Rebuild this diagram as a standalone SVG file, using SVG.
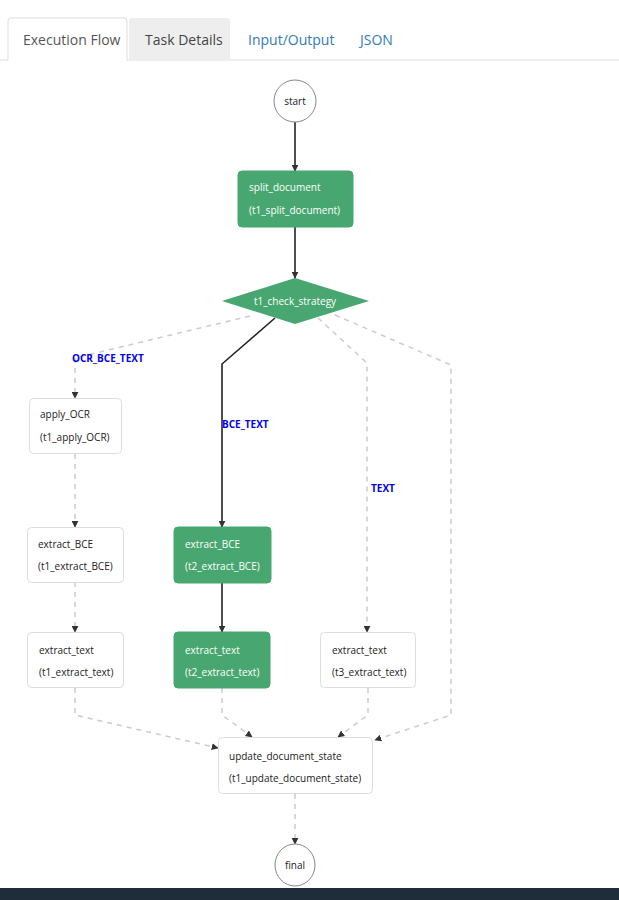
<svg xmlns="http://www.w3.org/2000/svg" width="619" height="900" viewBox="0 0 619 900">
<style>
text{font-family:"Open Sans","Liberation Sans",sans-serif}
.tab{font-size:14px;fill:#337ab7}
.n{font-size:10px;fill:#222}
.g{font-size:10px;fill:#fff}
.lbl{font-size:10px;fill:#0000ee;font-weight:bold}
.box{fill:#fff;stroke:#ddd;stroke-width:1}
.gbox{fill:#48a770;stroke:#48a770}
.solid{fill:none;stroke:#222;stroke-width:1.6;marker-end:url(#a)}
.dash{fill:none;stroke:#ccc;stroke-width:1.5;stroke-dasharray:5,5;marker-end:url(#a)}
</style>
<defs><marker id="a" viewBox="0 0 10 10" refX="9" refY="5" markerWidth="7" markerHeight="7" markerUnits="userSpaceOnUse" orient="auto"><path d="M0,0L10,5L0,10z" fill="#333"/></marker></defs>
<rect width="619" height="900" fill="#fff"/>
<g id="tabs">
<line x1="0" y1="60" x2="619" y2="60" stroke="#ddd"/>
<path d="M8,60V21a3,3 0 0 1 3,-3H124a3,3 0 0 1 3,3V61" fill="#fff" stroke="#ddd"/>
<rect x="8.5" y="59" width="118" height="3" fill="#fff"/>
<path d="M129,60V21a3,3 0 0 1 3,-3H227a3,3 0 0 1 3,3V60z" fill="#eee"/>
<text x="23" y="45" class="tab" style="fill:#555">Execution Flow</text>
<text x="145" y="45" class="tab" style="fill:#444">Task Details</text>
<text x="248" y="45" class="tab">Input/Output</text>
<text x="360" y="45" class="tab">JSON</text>
</g>
<g id="edges">
<path class="solid" d="M295,122V171"/>
<path class="solid" d="M295,227V278"/>
<path class="dash" d="M250,316L75,358V398"/>
<path class="solid" d="M275,318L222,364V527"/>
<path class="dash" d="M318,318L367,363V632"/>
<path class="dash" d="M335,315L451,365V715L375,740"/>
<path class="dash" d="M75,454V527"/>
<path class="dash" d="M75,582V632"/>
<path class="solid" d="M222,582V632"/>
<path class="dash" d="M75,688V715L218,748"/>
<path class="dash" d="M222,688V715L252,737"/>
<path class="dash" d="M368,688V715L338,737"/>
<path class="dash" d="M295,794V844"/>
<text x="72" y="362" class="lbl">OCR_BCE_TEXT</text>
<text x="222" y="428" class="lbl">BCE_TEXT</text>
<text x="371" y="492" class="lbl">TEXT</text>
</g>
<g id="start"><ellipse cx="295" cy="101" rx="21" ry="21" fill="#fff" stroke="#888"/><text x="295" y="105" class="n" text-anchor="middle">start</text></g>
<g id="split_document"><rect x="238" y="171" width="115" height="56" rx="4" class="gbox"/><text x="249" y="191" class="g">split_document</text><text x="249" y="214" class="g">(t1_split_document)</text></g>
<g id="t1_check_strategy"><path d="M295,278L369,301L295,324L222,301z" fill="#48a770"/><text x="295" y="305" class="g" text-anchor="middle">t1_check_strategy</text></g>
<g id="t1_apply_OCR"><rect x="29.5" y="398.5" width="92" height="55" rx="4" class="box"/><text x="40" y="418" class="n">apply_OCR</text><text x="40" y="441" class="n">(t1_apply_OCR)</text></g>
<g id="t1_extract_BCE"><rect x="27.5" y="527.5" width="96" height="55" rx="4" class="box"/><text x="38" y="548" class="n">extract_BCE</text><text x="38" y="570" class="n">(t1_extract_BCE)</text></g>
<g id="t2_extract_BCE"><rect x="174" y="527" width="97" height="56" rx="4" class="gbox"/><text x="185" y="548" class="g">extract_BCE</text><text x="185" y="570" class="g">(t2_extract_BCE)</text></g>
<g id="t1_extract_text"><rect x="27.5" y="632.5" width="96" height="55" rx="4" class="box"/><text x="39" y="654" class="n">extract_text</text><text x="39" y="676" class="n">(t1_extract_text)</text></g>
<g id="t2_extract_text"><rect x="174" y="632" width="96" height="56" rx="4" class="gbox"/><text x="185" y="654" class="g">extract_text</text><text x="185" y="676" class="g">(t2_extract_text)</text></g>
<g id="t3_extract_text"><rect x="320.5" y="632.5" width="95" height="55" rx="4" class="box"/><text x="332" y="654" class="n">extract_text</text><text x="332" y="676" class="n">(t3_extract_text)</text></g>
<g id="t1_update_document_state"><rect x="218.5" y="737.5" width="154" height="56" rx="4" class="box"/><text x="229" y="760" class="n">update_document_state</text><text x="229" y="782" class="n">(t1_update_document_state)</text></g>
<g id="final"><ellipse cx="295" cy="865" rx="20" ry="21" fill="#fff" stroke="#888"/><text x="295" y="869" class="n" text-anchor="middle">final</text></g>
<rect x="0" y="888" width="619" height="12" fill="#1f2d3a"/>
</svg>
